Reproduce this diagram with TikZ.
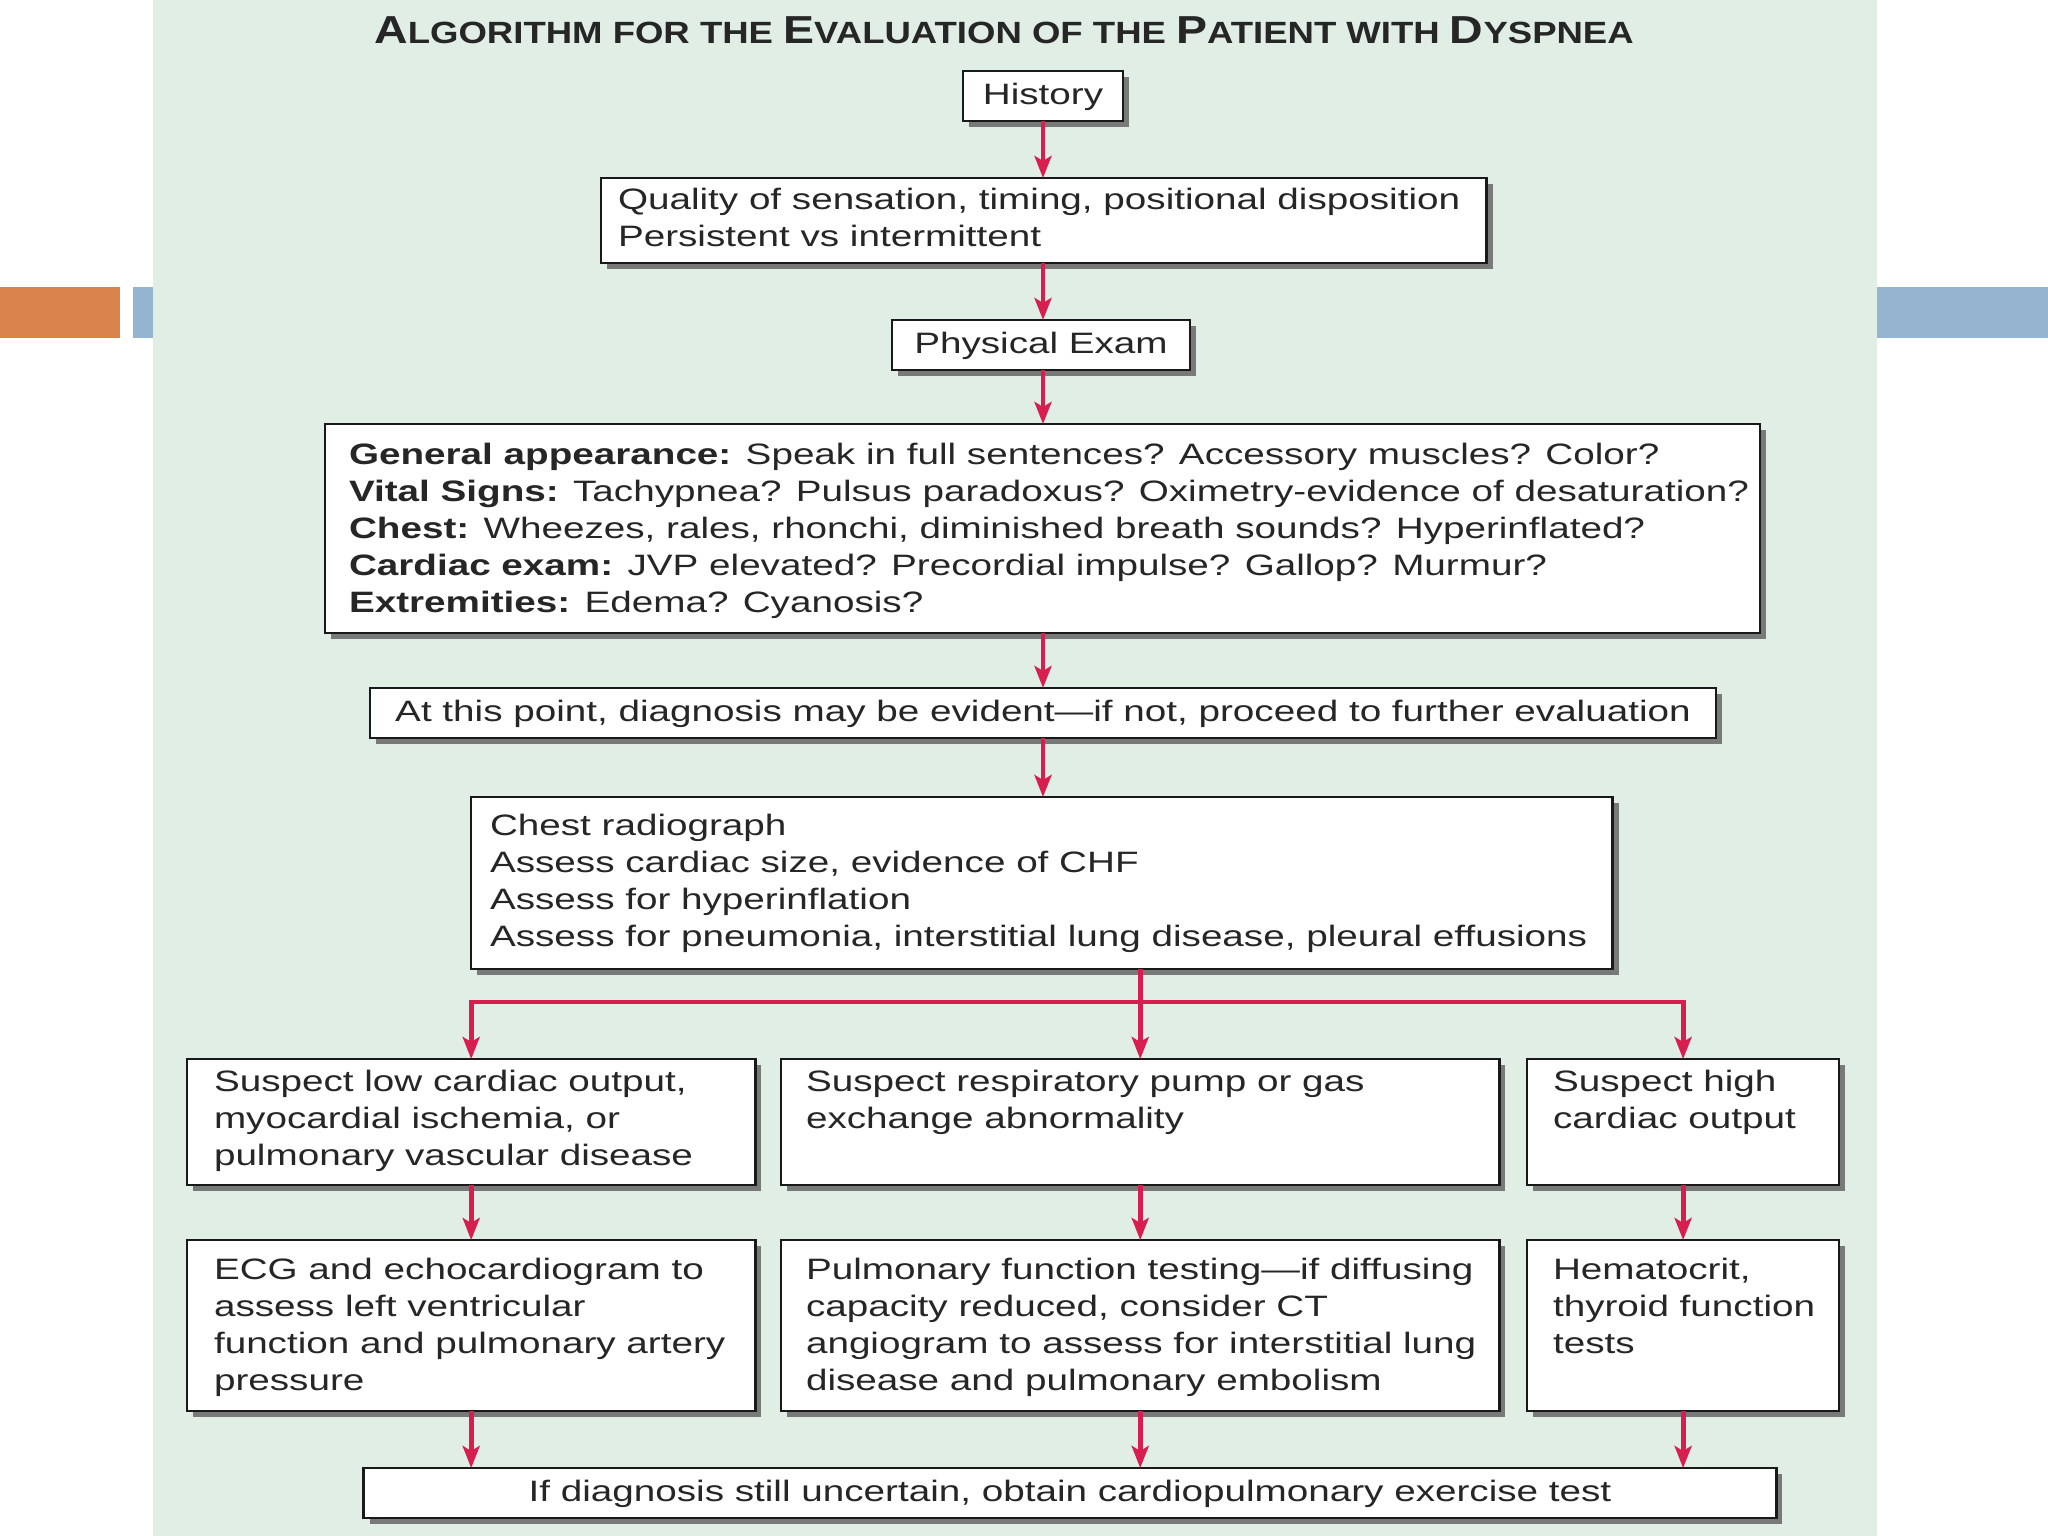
\documentclass[tikz,border=0pt]{standalone}
\usepackage{fontspec}
\setmainfont{Liberation Sans}[FakeStretch=1.31]
\newfontfamily\titlefont{Liberation Sans}[FakeStretch=1.19]
\usetikzlibrary{shadows,arrows.meta,calc}

\definecolor{panel}{HTML}{E0EEE6}
\definecolor{orng}{HTML}{D9824A}
\definecolor{blu}{HTML}{94B4D0}
\definecolor{arr}{HTML}{D81E4F}
\definecolor{txt}{HTML}{262626}

\newcommand\bodyfont{\fontsize{8.39pt}{10.5pt}\selectfont}
\newcommand\ml[1]{\hbox to \hsize{#1\hss}}
\newcommand\tbox[3]{\parbox[c][#2][t]{#1}{#3}}
\newcommand\BigC[1]{{\fontsize{11.1pt}{12pt}\selectfont #1}}

\begin{document}
\begin{tikzpicture}[x=0.01cm,y=-0.01cm,
  box/.style={draw=black!90, line width=0.7pt, fill=white, inner sep=0pt, outer sep=0pt,
    drop shadow={shadow xshift=0.06cm, shadow yshift=-0.06cm, fill=black!60, opacity=0.85},
    font=\bodyfont, text=txt},
  cbox/.style={box, text height=6.4pt, text depth=1.3pt},
  flow/.style={draw=arr, line width=1.4pt, line join=miter,
    -{Stealth[length=0.22cm, width=0.17cm, inset=0.05cm]}},
]
\useasboundingbox (0,0) rectangle (2048,1536);
\fill[white] (0,0) rectangle (2048,1536);
\fill[panel] (153,0) rectangle (1877,1536);
\fill[orng] (0,287) rectangle (120,338);
\fill[blu] (133,287) rectangle (153,338);
\fill[blu] (1877,287) rectangle (2048,338);

\node[anchor=base, text=txt, inner sep=0pt] (title) at (1004,43)
  {\titlefont\bfseries\fontsize{8.73pt}{10pt}\selectfont
   \BigC{A}LGORITHM FOR THE \BigC{E}VALUATION OF THE \BigC{P}ATIENT WITH \BigC{D}YSPNEA};

\node[cbox, minimum width=1.60cm, minimum height=0.50cm] (hist) at (1043,96) {History};

\node[box, anchor=north west, inner xsep=0.17cm, inner ysep=0.10cm] (qual) at (601,178)
  {\tbox{8.51cm}{0.65cm}{\ml{Quality of sensation, timing, positional disposition}\ml{Persistent vs intermittent}}};

\node[cbox, minimum width=2.98cm, minimum height=0.50cm] (phys) at (1041,345) {Physical Exam};

\node[box, anchor=north west, inner xsep=0.24cm, inner ysep=0.19cm] (gen) at (325,424)
  {\tbox{13.86cm}{1.71cm}{%
    \ml{\textbf{General appearance:} Speak in full sentences? Accessory muscles? Color?}%
    \ml{\textbf{Vital Signs:} Tachypnea? Pulsus paradoxus? Oximetry-evidence of desaturation?}%
    \ml{\textbf{Chest:} Wheezes, rales, rhonchi, diminished breath sounds? Hyperinflated?}%
    \ml{\textbf{Cardiac exam:} JVP elevated? Precordial impulse? Gallop? Murmur?}%
    \ml{\textbf{Extremities:} Edema? Cyanosis?}}};

\node[cbox, minimum width=13.45cm, minimum height=0.50cm] (point) at (1043,713)
  {At this point, diagnosis may be evident—if not, proceed to further evaluation};

\node[box, anchor=north west, inner xsep=0.19cm, inner ysep=0.17cm] (chest) at (471,797)
  {\tbox{11.03cm}{1.38cm}{%
    \ml{Chest radiograph}%
    \ml{Assess cardiac size, evidence of CHF}%
    \ml{Assess for hyperinflation}%
    \ml{Assess for pneumonia, interstitial lung disease, pleural effusions}}};

\node[box, anchor=north west, inner xsep=0.27cm, inner ysep=0.11cm] (L1) at (187,1059)
  {\tbox{5.14cm}{1.04cm}{%
    \ml{Suspect low cardiac output,}%
    \ml{myocardial ischemia, or}%
    \ml{pulmonary vascular disease}}};
\node[box, anchor=north west, inner xsep=0.25cm, inner ysep=0.11cm] (M1) at (781,1059)
  {\tbox{6.68cm}{1.04cm}{%
    \ml{Suspect respiratory pump or gas}%
    \ml{exchange abnormality}}};
\node[box, anchor=north west, inner xsep=0.26cm, inner ysep=0.11cm] (R1) at (1527,1059)
  {\tbox{2.60cm}{1.04cm}{%
    \ml{Suspect high}%
    \ml{cardiac output}}};

\node[box, anchor=north west, inner xsep=0.27cm, inner ysep=0.18cm] (L2) at (187,1240)
  {\tbox{5.14cm}{1.35cm}{%
    \ml{ECG and echocardiogram to}%
    \ml{assess left ventricular}%
    \ml{function and pulmonary artery}%
    \ml{pressure}}};
\node[box, anchor=north west, inner xsep=0.25cm, inner ysep=0.18cm] (M2) at (781,1240)
  {\tbox{6.68cm}{1.35cm}{%
    \ml{Pulmonary function testing—if diffusing}%
    \ml{capacity reduced, consider CT}%
    \ml{angiogram to assess for interstitial lung}%
    \ml{disease and pulmonary embolism}}};
\node[box, anchor=north west, inner xsep=0.26cm, inner ysep=0.18cm] (R2) at (1527,1240)
  {\tbox{2.60cm}{1.35cm}{%
    \ml{Hematocrit,}%
    \ml{thyroid function}%
    \ml{tests}}};

\node[cbox, minimum width=14.12cm, minimum height=0.50cm] (final) at (1070,1493)
  {If diagnosis still uncertain, obtain cardiopulmonary exercise test};

\coordinate (br) at (1140,1002);

\draw[flow] (hist.south) -- (qual.north -| hist.south);
\draw[flow] (qual.south -| hist.south) -- (phys.north -| hist.south);
\draw[flow] (phys.south -| hist.south) -- (gen.north -| hist.south);
\draw[flow] (gen.south -| hist.south) -- (point.north -| hist.south);
\draw[flow] (point.south -| hist.south) -- (chest.north -| hist.south);
\draw[flow] (chest.south -| M1.north) -- (M1.north);
\draw[flow] (br) -| (L1.north);
\draw[flow] (br) -| (R1.north);
\draw[flow] (L1.south) -- (L2.north);
\draw[flow] (M1.south) -- (M2.north);
\draw[flow] (R1.south) -- (R2.north);
\draw[flow] (L2.south) -- (L2.south |- final.north);
\draw[flow] (M2.south) -- (M2.south |- final.north);
\draw[flow] (R2.south) -- (R2.south |- final.north);
\end{tikzpicture}
\end{document}
